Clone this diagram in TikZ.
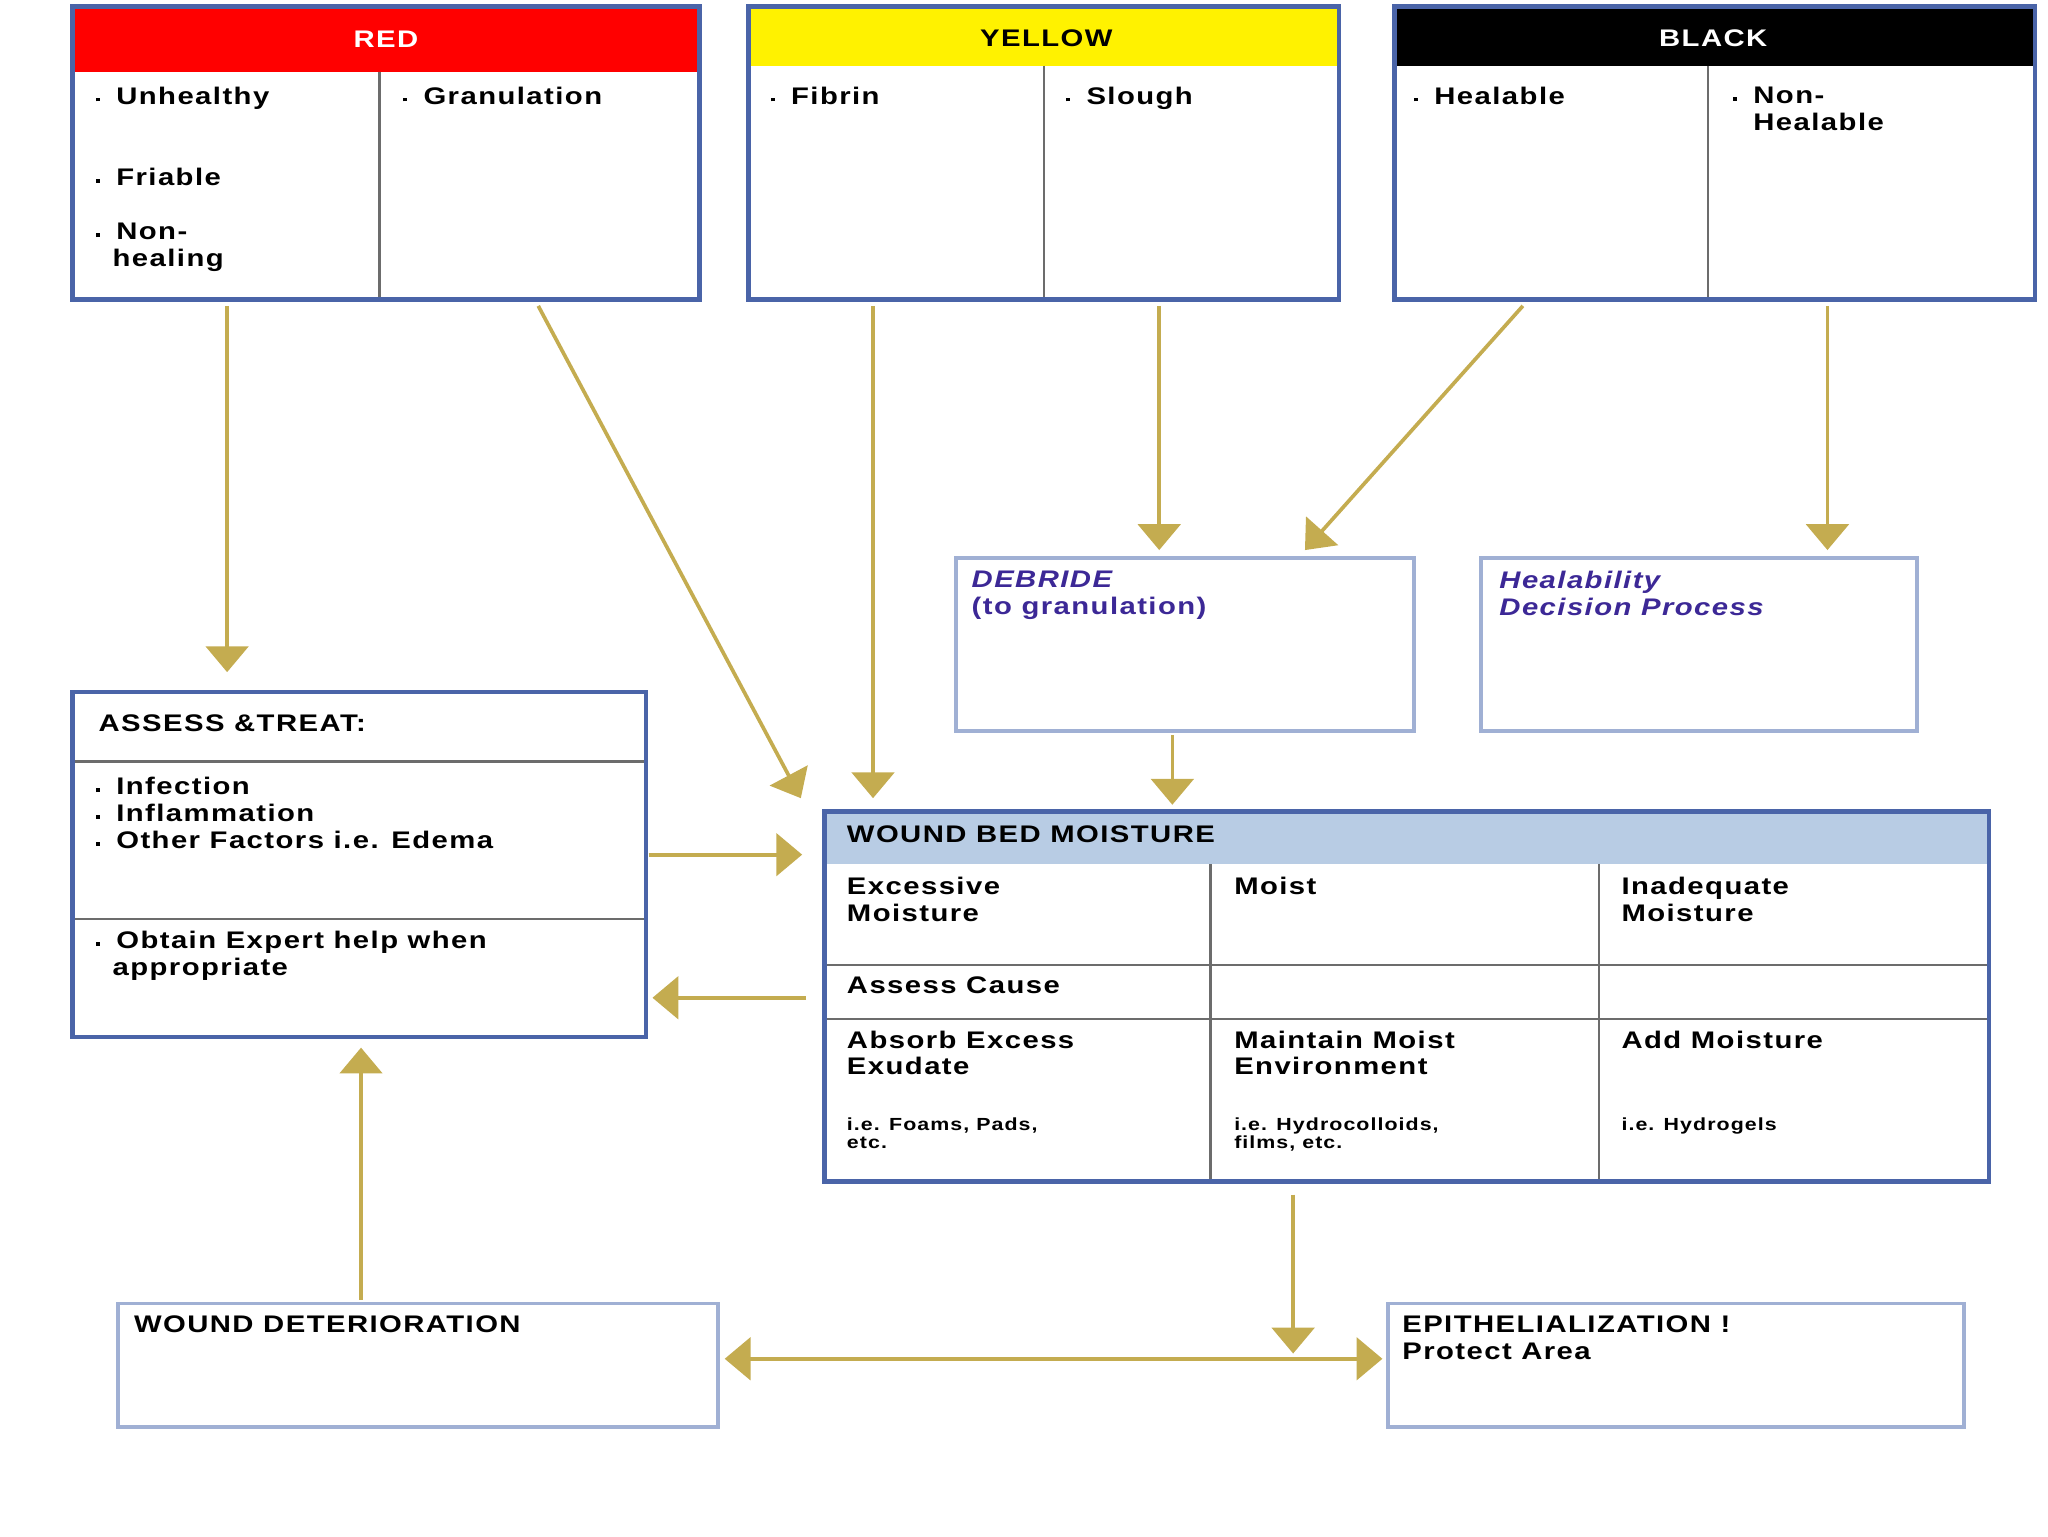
\documentclass[tikz,border=0pt]{standalone}
\usepackage{fontspec}
\setmainfont{Liberation Sans}[FakeStretch=1.22,LetterSpace=6]
\usetikzlibrary{arrows.meta}
\definecolor{tbc}{RGB}{74,100,168}
\definecolor{lbc}{RGB}{160,176,212}
\definecolor{arc}{RGB}{196,172,80}
\definecolor{hdc}{RGB}{184,204,228}
\definecolor{itc}{RGB}{60,40,150}
\begin{document}
\begin{tikzpicture}[x=0.05cm,y=-0.05cm,
 tb/.style={draw=tbc, line width=5pt},
 lb/.style={draw=lbc, line width=4pt},
 div/.style={draw=gray!85!black, line width=2.5pt},
 ar/.style={draw=arc, line width=4pt, -{Triangle[width=46pt,length=28pt]}},
 t/.style={anchor=north west, inner sep=0pt, font=\fontsize{26}{29}\selectfont\bfseries, align=left},
 ti/.style={t, text=itc, font=\fontsize{26}{29}\selectfont\bfseries\itshape},
 ts/.style={t, font=\fontsize{19}{20}\selectfont\bfseries},
 h/.style={anchor=center, inner sep=0pt, font=\fontsize{26}{30}\selectfont\bfseries}]
\newcommand{\bu}{\rule[3pt]{4pt}{4pt}\hspace{18pt}}
\useasboundingbox (0,0) rectangle (1560,1170);
% RED
\fill[red] (55,5) rectangle (533,55);
\node[h,text=white] (rh) at (294,30) {RED};
\draw[div] (289,55) -- (289,228);
\draw[tb] (55,5) rectangle (533,228);
\node[t] (r1) at (73,66) {\bu Unhealthy};
\node[t] (r2) at (73,128) {\bu Friable};
\node[t] (r3) at (73,170) {\bu Non-\\\hspace{18pt}healing};
\node[t] (r4) at (307,66) {\bu Granulation};
% YELLOW
\fill[yellow] (570,5) rectangle (1020,50);
\node[h] (yh) at (797,29) {YELLOW};
\draw[div] (795,50) -- (795,228);
\draw[tb] (570,5) rectangle (1020,228);
\node[t] (y1) at (587,66) {\bu Fibrin};
\node[t] (y2) at (812,66) {\bu Slough};
% BLACK
\fill[black] (1062,5) rectangle (1550,50);
\node[h,text=white] (bh) at (1305,29) {BLACK};
\draw[div] (1301,50) -- (1301,228);
\draw[tb] (1062,5) rectangle (1550,228);
\node[t] (b1) at (1077,66) {\bu Healable};
\node[t] (b2) at (1320,66) {\bu Non-\\\hspace{22pt}Healable};
% DEBRIDE / Healability
\draw[lb] (728,425) rectangle (1077,557);
\node[ti] (deb) at (740,435) {DEBRIDE\\\textup{(to granulation)}};
\draw[lb] (1128,425) rectangle (1460,557);
\node[ti] (hea) at (1142,435) {Healability\\Decision Process};
% ASSESS
\draw[div] (55,580) -- (492,580);
\draw[div] (55,700) -- (492,700);
\draw[tb] (55,527) rectangle (492,790);
\node[t] (as) at (75,544) {ASSESS \&TREAT:};
\node[t] (as1) at (73,592) {\bu Infection\\\bu Inflammation\\\bu Other Factors i.e. Edema};
\node[t] (as2) at (73,709) {\bu Obtain Expert help when\\\hspace{18pt}appropriate};
% WBM
\fill[hdc] (628,618) rectangle (1515,658);
\draw[div] (628,735) -- (1515,735);
\draw[div] (628,776) -- (1515,776);
\draw[div] (922,658) -- (922,900);
\draw[div] (1218,658) -- (1218,900);
\draw[tb] (628,618) rectangle (1515,900);
\node[t] (wbm) at (645,629) {WOUND BED MOISTURE};
\node[t] (w1) at (645,668) {Excessive\\Moisture};
\node[t] (w2) at (940,668) {Moist};
\node[t] (w3) at (1235,668) {Inadequate\\Moisture};
\node[t] (w4) at (645,744) {Assess Cause};
\node[t] (w5) at (645,785) {Absorb Excess\\Exudate};
\node[t] (w6) at (940,785) {Maintain Moist\\Environment};
\node[t] (w7) at (1235,785) {Add Moisture};
\node[ts] (w8) at (645,851) {i.e. Foams, Pads,\\etc.};
\node[ts] (w9) at (940,851) {i.e. Hydrocolloids,\\films, etc.};
\node[ts] (w10) at (1235,851) {i.e. Hydrogels};
% bottom
\draw[lb] (90,993) rectangle (547,1087);
\node[t] (wd) at (102,1002) {WOUND DETERIORATION};
\draw[lb] (1057,993) rectangle (1496,1087);
\node[t] (ep) at (1068,1002) {EPITHELIALIZATION !\\Protect Area};
% arrows
\coordinate (a1) at (173,233); \coordinate (a1e) at (173,512);
\coordinate (a2) at (410,233); \coordinate (a2e) at (610,608);
\coordinate (a3) at (665,233); \coordinate (a3e) at (665,608);
\coordinate (a4) at (883,233); \coordinate (a4e) at (883,419);
\coordinate (a5) at (1160,233); \coordinate (a5e) at (994,419);
\coordinate (a6) at (1392,233); \coordinate (a6e) at (1392,419);
\coordinate (a7) at (893,560); \coordinate (a7e) at (893,613);
\coordinate (a8) at (494,651); \coordinate (a8e) at (611,651);
\coordinate (a9) at (614,760); \coordinate (a9e) at (497,760);
\coordinate (a10) at (275,990); \coordinate (a10e) at (275,798);
\coordinate (a11) at (985,910); \coordinate (a11e) at (985,1031);
\coordinate (a12) at (552,1035); \coordinate (a12e) at (1053,1035);
\foreach \a in {a1,a2,a3,a4,a5,a6,a7,a8,a9,a10,a11} \draw[ar] (\a) -- (\a e);
\draw[ar,{Triangle[width=46pt,length=28pt]}-{Triangle[width=46pt,length=28pt]}] (a12) -- (a12e);
\end{tikzpicture}
\end{document}
